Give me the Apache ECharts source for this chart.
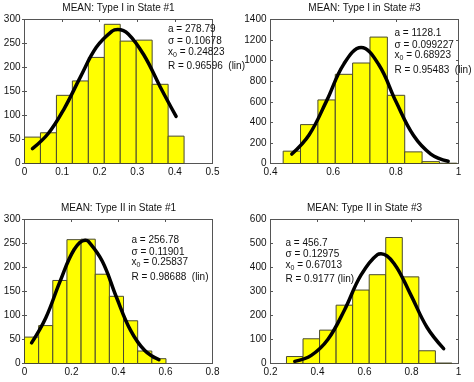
<!DOCTYPE html>
<html>
<head>
<meta charset="utf-8">
<script src="https://cdn.jsdelivr.net/npm/echarts@6/dist/echarts.min.js"></script>
<style>
html,body{margin:0;padding:0;background:#fff;}
#chart{width:474px;height:382px;}
</style>
</head>
<body>
<div id="chart"></div>
<script>
// ---- Data ----
var titles = ['MEAN: Type I in State #1', 'MEAN: Type I in State #3', 'MEAN: Type II in State #1', 'MEAN: Type II in State #3'];

var p1Edges = [0, 0.0424, 0.0849, 0.1273, 0.1698, 0.2122, 0.2546, 0.2971, 0.3395, 0.3820, 0.4244];
var p1Counts = [55, 64, 142, 172, 221, 290, 255, 257, 165, 57];
var p1CurveX = [0.0212, 0.0637, 0.1061, 0.1485, 0.1910, 0.2334, 0.2482, 0.2759, 0.3183, 0.3607, 0.4032];
var p1CurveY = [31, 63, 115, 180, 242, 276, 279, 270, 225, 160, 98];
var p1Fit = ['a = 278.79', 'σ = 0.10678', '0.24823', 'R = 0.96596  (lin)'];

var p2Edges = [0.4404, 0.4958, 0.5513, 0.6067, 0.6621, 0.7175, 0.7730, 0.8284, 0.8838, 0.9393, 0.9947];
var p2Counts = [120, 378, 618, 867, 977, 1229, 663, 113, 18, 3];
var p2CurveX = [0.4681, 0.5235, 0.5790, 0.6344, 0.6892, 0.7453, 0.8007, 0.8561, 0.9116, 0.9670];
var p2CurveY = [92, 280, 609, 969, 1128, 962, 600, 274, 92, 22];
var p2Fit = ['a = 1128.1', 'σ = 0.099227', '0.68923', 'R = 0.95483  (lin)'];

var p3Edges = [0, 0.0602, 0.1204, 0.1806, 0.2408, 0.3010, 0.3612, 0.4214, 0.4816, 0.5418, 0.6020];
var p3Counts = [55, 79, 173, 258, 259, 186, 140, 89, 26, 10];
var p3CurveX = [0.0301, 0.0903, 0.1505, 0.2107, 0.2584, 0.2709, 0.3311, 0.3913, 0.4515, 0.5117, 0.5719];
var p3CurveY = [43, 95, 170, 237, 257, 255, 213, 138, 69, 27, 8];
var p3Fit = ['a = 256.78', 'σ = 0.11901', '0.25837', 'R = 0.98688  (lin)'];

var p4Edges = [0.2680, 0.3384, 0.4088, 0.4792, 0.5496, 0.6200, 0.6904, 0.7608, 0.8312, 0.9016, 0.9720];
var p4Counts = [29, 103, 139, 243, 306, 370, 525, 361, 53, 2];
var p4CurveX = [0.3032, 0.3736, 0.4440, 0.5144, 0.5848, 0.6552, 0.6701, 0.7256, 0.7960, 0.8664, 0.9368];
var p4CurveY = [9, 34, 100, 222, 368, 454, 457, 417, 288, 150, 62];
var p4Fit = ['a = 456.7', 'σ = 0.12975', '0.67013', 'R = 0.9177 (lin)'];

var xMin = [0, 0.4, 0, 0.2], xMax = [0.5, 1, 0.8, 1], xStep = [0.1, 0.2, 0.2, 0.2];
var yMin = [0, 0, 0, 0], yMax = [300, 1400, 300, 600], yStep = [50, 200, 50, 100];

// ---- Layout / style ----
var FONT = '"Liberation Sans", Arial, Helvetica, sans-serif';
var FS = 10;
var grids = [
  {left: 24.5, top: 19.5, width: 188, height: 144},
  {left: 270.5, top: 19.5, width: 188, height: 144},
  {left: 24.5, top: 219.5, width: 188, height: 144},
  {left: 270.5, top: 219.5, width: 188, height: 144}
];
var textPos = [
  {x: 168, ys: [29.5, 41.5, 52, 66]},
  {x: 394.5, ys: [33.5, 45, 55, 70]},
  {x: 131.5, ys: [240, 252, 262, 277]},
  {x: 285.5, ys: [243, 254.5, 265, 279]}
];

var panels = [
  {edges: p1Edges, counts: p1Counts, cx: p1CurveX, cy: p1CurveY, fit: p1Fit},
  {edges: p2Edges, counts: p2Counts, cx: p2CurveX, cy: p2CurveY, fit: p2Fit},
  {edges: p3Edges, counts: p3Counts, cx: p3CurveX, cy: p3CurveY, fit: p3Fit},
  {edges: p4Edges, counts: p4Counts, cx: p4CurveX, cy: p4CurveY, fit: p4Fit}
];

function fmt(v) { return String(+v.toFixed(6)); }

var AX = '#555';
var gridOpt = [], xAxes = [], yAxes = [], series = [], graphics = [];

function txt(x, y, s, size, align) {
  return {
    type: 'text', x: x, y: y, z: 10,
    style: {text: s, fontSize: size, fontFamily: FONT, fill: '#111', textAlign: align || 'left', textVerticalAlign: 'middle'}
  };
}

panels.forEach(function (p, i) {
  var g = grids[i];
  gridOpt.push({left: g.left, top: g.top, width: g.width, height: g.height,
    show: true, borderColor: AX, borderWidth: 1, backgroundColor: '#fff'});
  ['bottom', 'top'].forEach(function (pos, k) {
    xAxes.push({
      type: 'value', gridIndex: i, position: pos, min: xMin[i], max: xMax[i], interval: xStep[i],
      axisLine: {show: true, onZero: false, lineStyle: {color: AX, width: 1}},
      axisTick: {show: true, inside: true, length: 2.5, lineStyle: {color: AX}},
      axisLabel: {show: k === 0, color: '#111', fontSize: FS, fontFamily: FONT, margin: 4, formatter: fmt},
      splitLine: {show: false}
    });
  });
  ['left', 'right'].forEach(function (pos, k) {
    yAxes.push({
      type: 'value', gridIndex: i, position: pos, min: yMin[i], max: yMax[i], interval: yStep[i],
      axisLine: {show: true, lineStyle: {color: AX, width: 1}},
      axisTick: {show: true, inside: true, length: 2.5, lineStyle: {color: AX}},
      axisLabel: {show: k === 0, color: '#111', fontSize: FS, fontFamily: FONT, margin: 4, formatter: fmt},
      splitLine: {show: false}
    });
  });
  var barData = p.counts.map(function (c, j) { return [p.edges[j], p.edges[j + 1], c]; });
  series.push({
    type: 'custom', xAxisIndex: i * 2, yAxisIndex: i * 2,
    data: barData,
    encode: {x: [0, 1], y: 2},
    renderItem: function (params, api) {
      var a = api.coord([api.value(0), 0]);
      var b = api.coord([api.value(1), api.value(2)]);
      return {
        type: 'rect',
        shape: {x: a[0], y: b[1], width: b[0] - a[0], height: a[1] - b[1]},
        style: {fill: '#ffff00', stroke: '#4a4a30', lineWidth: 1}
      };
    },
    silent: true, animation: false
  });
  series.push({
    type: 'line', xAxisIndex: i * 2, yAxisIndex: i * 2,
    data: p.cx.map(function (x, j) { return [x, p.cy[j]]; }),
    smooth: 0.4, showSymbol: false, symbol: 'none',
    lineStyle: {color: '#000', width: 3.5, cap: 'round'},
    silent: true, animation: false, z: 5
  });
  // title
  graphics.push(txt(g.left + g.width / 2, g.top - 11.5, titles[i], FS, 'center'));
  var tp = textPos[i];
  graphics.push(txt(tp.x, tp.ys[0], p.fit[0], FS));
  graphics.push(txt(tp.x, tp.ys[1], p.fit[1], FS));
  graphics.push(txt(tp.x, tp.ys[2], 'x', FS));
  graphics.push(txt(tp.x + 5, tp.ys[2] + 3.5, '0', 7));
  graphics.push(txt(tp.x + 8.9, tp.ys[2], ' = ' + p.fit[2], FS));
  graphics.push(txt(tp.x, tp.ys[3], p.fit[3], FS));
});

var chart = echarts.init(document.getElementById('chart'), null, {renderer: 'canvas'});
chart.setOption({
  backgroundColor: '#fff',
  animation: false,
  grid: gridOpt,
  xAxis: xAxes,
  yAxis: yAxes,
  series: series,
  graphic: graphics
});
</script>
</body>
</html>
